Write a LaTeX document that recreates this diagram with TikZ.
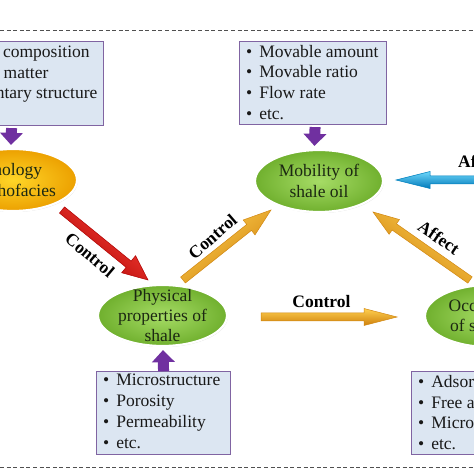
\documentclass[tikz,border=0pt]{standalone}
\usepackage{fontspec}
\setmainfont{Liberation Serif}
\usetikzlibrary{calc,shapes.geometric,shadows}
\definecolor{boxfill}{RGB}{220,230,242}
\definecolor{boxline}{RGB}{128,100,162}
\definecolor{purp}{RGB}{112,48,160}
\definecolor{gin}{RGB}{166,220,102}
\definecolor{gout}{RGB}{112,176,46}
\definecolor{yin}{RGB}{255,214,40}
\definecolor{yout}{RGB}{236,160,0}
\definecolor{ortop}{RGB}{255,208,80}
\definecolor{ormid}{RGB}{243,168,28}
\definecolor{orbot}{RGB}{206,128,12}
\definecolor{ordraw}{RGB}{210,136,18}
\definecolor{redtop}{RGB}{255,70,60}
\definecolor{redmid}{RGB}{232,22,22}
\definecolor{redbot}{RGB}{170,0,0}
\definecolor{reddraw}{RGB}{176,0,0}
\definecolor{bluetop}{RGB}{110,215,250}
\definecolor{bluemid}{RGB}{20,178,235}
\definecolor{bluebot}{RGB}{0,120,185}
\definecolor{bluedraw}{RGB}{0,128,190}
\definecolor{dashcol}{RGB}{80,80,80}
\definecolor{txtcol}{RGB}{25,25,25}
\definecolor{elltxt}{RGB}{28,40,18}
\newcommand\blkarrow[6]{%
  \coordinate (hb) at ($(#3)!#6!(#2)$);
  \path[#1] ($(#2)!#4!90:(#3)$) -- ($(hb)!#4!90:(#3)$) -- ($(hb)!#5!90:(#3)$) -- (#3)
    -- ($(hb)!#5!-90:(#3)$) -- ($(hb)!#4!-90:(#3)$) -- ($(#2)!#4!-90:(#3)$) -- cycle;}
\tikzset{
  infobox/.style={draw=boxline, line width=1.1pt, fill=boxfill, rectangle, inner sep=0pt, anchor=north west},
  infotext/.style={anchor=north west, inner sep=0pt, align=left, text=txtcol, font=\fontsize{17.5}{20.8}\selectfont},
  ell/.style={ellipse, draw=white, line width=2.2pt, inner sep=0pt, align=center, text=elltxt,
    font=\fontsize{17.5}{20.2}\selectfont,
    drop shadow={shadow xshift=0.8pt, shadow yshift=-1pt, opacity=0.3, fill=gray}},
  greenell/.style={ell, inner color=gin, outer color=gout},
  yellowell/.style={ell, inner color=yin, outer color=yout},
  lbl/.style={font=\bfseries\fontsize{17.5}{20}\selectfont, inner sep=0pt, text=black},
  purparr/.style={fill=purp},
  redarr/.style={top color=redtop, middle color=redmid, bottom color=redbot, draw=reddraw, line width=0.5pt},
  orarr/.style={top color=ortop, middle color=ormid, bottom color=orbot, draw=ordraw, line width=0.5pt},
  bluearr/.style={top color=bluetop, middle color=bluemid, bottom color=bluebot, draw=bluedraw, line width=0.5pt},
  dashline/.style={draw=dashcol, line width=0.9pt, dash pattern=on 4pt off 2.6pt}
}
\begin{document}
\begin{tikzpicture}[x=1pt,y=1pt]
\useasboundingbox (0,0) rectangle (474,474);
\clip (0,0) rectangle (474,474);
\fill[white] (0,0) rectangle (474,474);
% dashed separators
\draw[dashline] (0,444) -- (474,444);
\draw[dashline] (0,7) -- (474,7);
% info boxes
\node[infobox, minimum width=180pt, minimum height=84pt] (lbox) at (-77,433) {};
\node[infotext] (ltxt) at (-70,429) {\textbullet\hspace{7pt}Mineral composition\\\textbullet\hspace{7pt}Organic matter\\\textbullet\hspace{7pt}Sedimentary structure};
\node[infobox, minimum width=147pt, minimum height=83pt] (mbox) at (239,433) {};
\node[infotext] (mtxt) at (246,429.3) {\textbullet\hspace{7pt}Movable amount\\\textbullet\hspace{7pt}Movable ratio\\\textbullet\hspace{7pt}Flow rate\\\textbullet\hspace{7pt}etc.};
\node[infobox, minimum width=134pt, minimum height=83pt] (pbox) at (96,103) {};
\node[infotext] (ptxt) at (103,100) {\textbullet\hspace{7pt}Microstructure\\\textbullet\hspace{7pt}Porosity\\\textbullet\hspace{7pt}Permeability\\\textbullet\hspace{7pt}etc.};
\node[infobox, minimum width=150pt, minimum height=83pt] (obox) at (411,103) {};
\node[infotext] (otxt) at (418,99) {\textbullet\hspace{7pt}Adsorbed amount\\\textbullet\hspace{7pt}Free amount\\\textbullet\hspace{7pt}Microscopic occurrence\\\textbullet\hspace{7pt}etc.};
% ellipses
\node[yellowell, minimum width=128pt, minimum height=62pt] (lith) at (13,294) {Lithology\hspace*{11pt}\\\hspace*{7pt}Lithofacies};
\node[greenell, minimum width=128pt, minimum height=62pt] (mob) at (319,293) {Mobility of\\shale oil};
\node[greenell, minimum width=129pt, minimum height=61pt, inner ysep=-8pt] (phys) at (162.5,158.5) {Physical\\properties of\\shale};
\node[greenell, minimum width=128pt, minimum height=62pt] (occ) at (489,158) {Occurrence\\of shale oil};
% purple block arrows (box -> ellipse)
\coordinate (l1) at ([xshift=-2pt,yshift=-2pt]lbox.south);
\coordinate (l2) at ([xshift=-2pt,yshift=3pt]lith.north);
\blkarrow{purparr}{l1}{l2}{5.5pt}{11.5pt}{12pt}
\coordinate (m1) at ([xshift=2pt,yshift=-2pt]mbox.south);
\coordinate (m2) at ([xshift=-4.5pt,yshift=3pt]mob.north);
\blkarrow{purparr}{m1}{m2}{5.5pt}{11.5pt}{12pt}
\coordinate (p1) at ([yshift=0pt]pbox.north);
\coordinate (p2) at ([xshift=0.5pt,yshift=-3pt]phys.south);
\blkarrow{purparr}{p1}{p2}{5.5pt}{11.5pt}{12pt}
% main arrows
\coordinate (r1) at (62,264);
\coordinate (r2) at (148,194);
\blkarrow{redarr, shading angle=-39}{r1}{r2}{4pt}{11pt}{25pt}
\coordinate (c1) at (183,194);
\coordinate (c2) at (271,264);
\blkarrow{orarr, shading angle=38}{c1}{c2}{3.8pt}{9.5pt}{28pt}
\coordinate (h1) at (261,157);
\coordinate (h2) at (397,157);
\blkarrow{orarr}{h1}{h2}{4pt}{8.5pt}{33pt}
\coordinate (b1) at (490,294);
\coordinate (b2) at (396,294);
\blkarrow{bluearr}{b1}{b2}{4pt}{8.5pt}{34pt}
\coordinate (a1) at (470,194);
\coordinate (a2) at (373,262);
\blkarrow{orarr, shading angle=-35}{a1}{a2}{3.8pt}{9pt}{26pt}
% labels
\node[lbl, rotate=-40] (lc1) at (90,219) {Control};
\node[lbl, rotate=41] (lc2) at (212.5,237.5) {Control};
\node[lbl, anchor=base] (lc3) at (321.5,166) {Control};
\node[lbl, anchor=base west] (la1) at (458,306) {Affect};
\node[lbl, rotate=-34] (la2) at (439,236.5) {Affect};
\end{tikzpicture}
\end{document}
